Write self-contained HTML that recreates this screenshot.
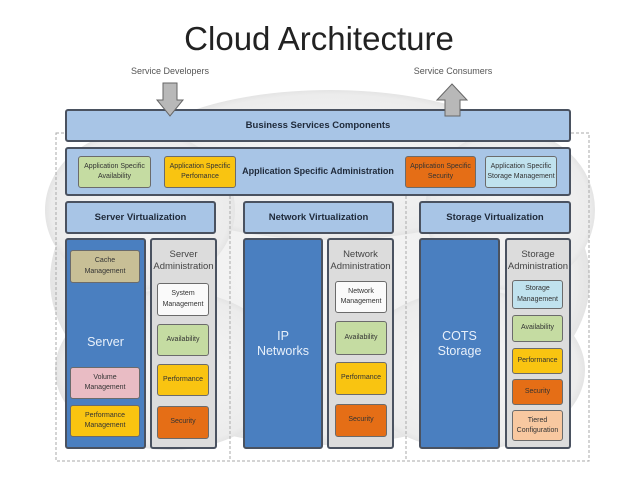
<!DOCTYPE html>
<html><head><meta charset="utf-8"><style>
body{margin:0;width:638px;height:479px;background:#fff;position:relative;overflow:hidden;font-family:"Liberation Sans",sans-serif;}
.a{position:absolute;box-sizing:border-box;}
.b{border:2px solid #4a5260;border-radius:3px;display:flex;align-items:center;justify-content:center;text-align:center;}
.lb{background:#a8c5e6;font-weight:bold;font-size:9.5px;color:#1f2a3a;}
.blue{background:#4a7fc0;color:#e8f0fa;font-size:12.5px;}
.gray{background:#dcdcdc;}
.s{border:1.5px solid #6b6b6b;border-radius:3px;display:flex;align-items:center;justify-content:center;text-align:center;font-size:7px;line-height:1.5;color:#333;}
.g{background:#c5dca2;}.y{background:#f9c411;}.o{background:#e56e16;}.c{background:#c0e2ee;}.w{background:#fafafa;}
.t{background:#c8bf96;}.p{background:#e9bcc4;}.pe{background:#f8c8a0;}
.h{font-size:9.5px;color:#444;text-align:center;line-height:1.25;}
</style></head><body>
<svg class="a" style="left:0;top:0" width="638" height="479">
<defs><radialGradient id="cg" cx="50%" cy="50%" r="55%"><stop offset="0" stop-color="#f6f6f6"/><stop offset="0.85" stop-color="#ececec"/><stop offset="1" stop-color="#d8d8d8"/></radialGradient></defs>
<g fill="url(#cg)">
<ellipse cx="320" cy="280" rx="270" ry="165"/>
<ellipse cx="330" cy="165" rx="200" ry="75"/>
<ellipse cx="140" cy="210" rx="95" ry="80"/>
<ellipse cx="510" cy="210" rx="85" ry="80"/>
<ellipse cx="170" cy="370" rx="115" ry="80"/>
<ellipse cx="470" cy="370" rx="115" ry="80"/>
</g>
<rect x="56" y="133" width="533" height="328" fill="none" stroke="#aaa" stroke-dasharray="3,2"/>
<line x1="230" y1="196" x2="230" y2="460" stroke="#aaa" stroke-dasharray="3,2"/>
<line x1="406" y1="196" x2="406" y2="460" stroke="#aaa" stroke-dasharray="3,2"/>
</svg>
<div class="a" style="left:0;top:20px;width:638px;text-align:center;font-size:33px;color:#222;">Cloud Architecture</div>
<div class="a" style="left:110px;top:66px;width:120px;text-align:center;font-size:9px;color:#555">Service Developers</div>
<div class="a" style="left:393px;top:66px;width:120px;text-align:center;font-size:9px;color:#555">Service Consumers</div>
<div class="a b lb" style="left:65px;top:109px;width:506px;height:33px">Business Services Components</div>
<div class="a b lb" style="left:65px;top:147px;width:506px;height:49px"></div>
<div class="a" style="left:238px;top:166px;width:160px;text-align:center;font-weight:bold;font-size:9px;color:#1f2a3a;white-space:nowrap">Application Specific Administration</div>
<div class="a s g" style="left:78px;top:156px;width:73px;height:32px">Application Specific<br>Availability</div>
<div class="a s y" style="left:164px;top:156px;width:72px;height:32px">Application Specific<br>Perfomance</div>
<div class="a s o" style="left:405px;top:156px;width:71px;height:32px">Application Specific<br>Security</div>
<div class="a s c" style="left:485px;top:156px;width:72px;height:32px">Application Specific<br>Storage Management</div>
<div class="a b lb" style="left:65px;top:201px;width:151px;height:33px">Server Virtualization</div>
<div class="a b lb" style="left:243px;top:201px;width:151px;height:33px">Network Virtualization</div>
<div class="a b lb" style="left:419px;top:201px;width:152px;height:33px">Storage Virtualization</div>

<div class="a b blue" style="left:65px;top:238px;width:81px;height:211px"><span style="margin-top:-4px">Server</span></div>
<div class="a s t" style="left:70px;top:250px;width:70px;height:33px">Cache<br>Management</div>
<div class="a s p" style="left:70px;top:367px;width:70px;height:32px">Volume<br>Management</div>
<div class="a s y" style="left:70px;top:405px;width:70px;height:32px">Performance<br>Management</div>
<div class="a b gray" style="left:150px;top:238px;width:67px;height:211px;align-items:flex-start"><div class="h" style="margin-top:9px">Server<br>Administration</div></div>
<div class="a s w" style="left:157px;top:283px;width:52px;height:33px">System<br>Management</div>
<div class="a s g" style="left:157px;top:324px;width:52px;height:32px">Availability</div>
<div class="a s y" style="left:157px;top:364px;width:52px;height:32px">Performance</div>
<div class="a s o" style="left:157px;top:406px;width:52px;height:33px">Security</div>

<div class="a b blue" style="left:243px;top:238px;width:80px;height:211px;line-height:1.2">IP<br>Networks</div>
<div class="a b gray" style="left:327px;top:238px;width:67px;height:211px;align-items:flex-start"><div class="h" style="margin-top:9px">Network<br>Administration</div></div>
<div class="a s w" style="left:335px;top:281px;width:52px;height:32px">Network<br>Management</div>
<div class="a s g" style="left:335px;top:321px;width:52px;height:34px">Availability</div>
<div class="a s y" style="left:335px;top:362px;width:52px;height:33px">Performance</div>
<div class="a s o" style="left:335px;top:404px;width:52px;height:33px">Security</div>

<div class="a b blue" style="left:419px;top:238px;width:81px;height:211px;line-height:1.2">COTS<br>Storage</div>
<div class="a b gray" style="left:505px;top:238px;width:66px;height:211px;align-items:flex-start"><div class="h" style="margin-top:9px">Storage<br>Administration</div></div>
<div class="a s c" style="left:512px;top:280px;width:51px;height:29px">Storage<br>Management</div>
<div class="a s g" style="left:512px;top:315px;width:51px;height:27px">Availability</div>
<div class="a s y" style="left:512px;top:348px;width:51px;height:26px">Performance</div>
<div class="a s o" style="left:512px;top:379px;width:51px;height:26px">Security</div>
<div class="a s pe" style="left:512px;top:410px;width:51px;height:31px;line-height:1.3">Tiered<br>Configuration</div>
<svg class="a" style="left:0;top:0" width="638" height="479">
<polygon points="163,83 177,83 177,100 183,100 170,116 157,100 163,100" fill="#b8b8b8" stroke="#666" stroke-width="1"/>
<polygon points="452,84 467,100 460,100 460,116 445,116 445,100 437,100" fill="#b8b8b8" stroke="#666" stroke-width="1"/>
</svg>
</body></html>
